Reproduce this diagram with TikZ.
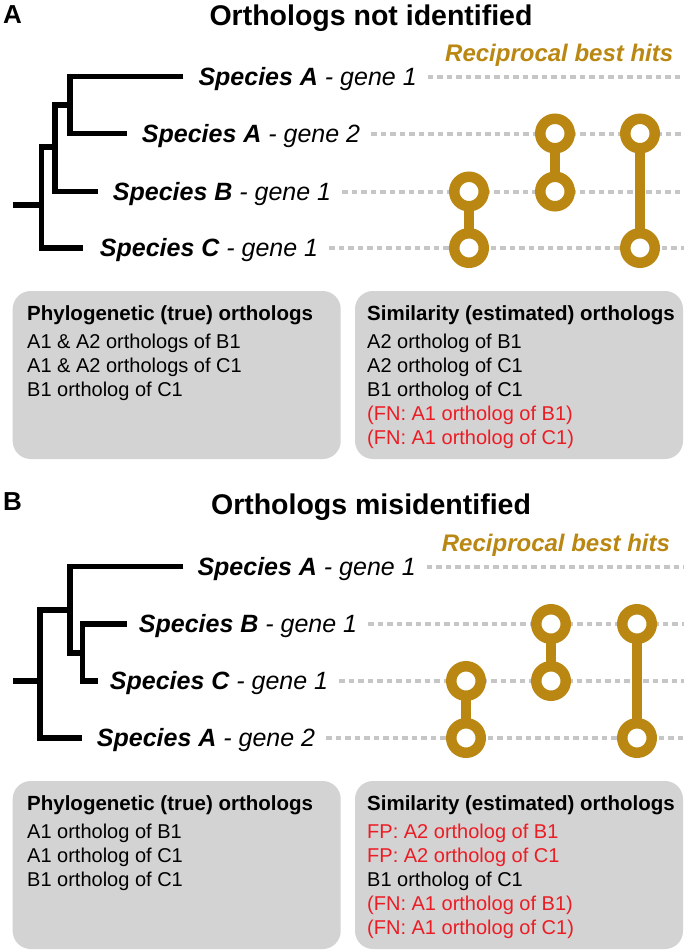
\documentclass[tikz,border=0pt]{standalone}
\usepackage{fontspec}
\setmainfont{Liberation Sans}
\usetikzlibrary{positioning}
\definecolor{rbhgold}{RGB}{185,135,18}
\definecolor{guidegray}{RGB}{198,198,198}
\definecolor{boxgray}{RGB}{211,211,211}
\definecolor{fnred}{RGB}{236,28,36}

\begin{document}
\begin{tikzpicture}[x=1pt,y=-1pt,
  branch/.style={line width=5.5pt,line join=miter},
  taxon/.style={inner sep=0pt,text height=17pt,text depth=0pt,font=\fontsize{25}{28}\selectfont\itshape},
  guide/.style={guidegray,line width=4pt,dash pattern=on 5.5pt off 4pt},
  hit/.style={circle,draw=rbhgold,fill=white,line width=10.5pt,inner sep=0pt,minimum size=29.5pt},
  hitlink/.style={rbhgold,line width=9.5pt,shorten <=-3pt,shorten >=-3pt},
  panel/.style={font=\fontsize{26}{30}\selectfont\bfseries,anchor=base west,inner sep=0pt},
  heading/.style={font=\fontsize{28.5}{32}\selectfont\bfseries,anchor=base,inner sep=0pt},
  rbh/.style={text=rbhgold,font=\fontsize{24}{28}\selectfont\bfseries\itshape,anchor=base west,inner sep=0pt},
  listbox/.style={fill=boxgray,rounded corners=18pt},
  listhead/.style={font=\fontsize{20.5}{24}\selectfont\bfseries,anchor=base west,inner sep=0pt},
  listline/.style={font=\fontsize{20}{24}\selectfont,anchor=base west,inner sep=0pt}]
\useasboundingbox (0,0) rectangle (685,951);
\coordinate (edge) at (684,0);

% ---- panel A: orthologs not identified
\node[panel] (pA) at (3,23.5) {A};
\node[heading] (tA) at (371,25) {Orthologs not identified};
\node[rbh] (rA) at (445,61.5) {Reciprocal best hits};
\coordinate (a1) at (183.3,76.7);
\coordinate (a2) at (126.7,133.5);
\coordinate (a3) at (97.7,191.5);
\coordinate (a4) at (82.7,248);
\draw[branch] (12.7,205) -- (41.7,205);
\draw[branch] (55,147) -- (41.7,147) -- (41.7,248) -- (a4);
\draw[branch] (70,105) -- (55,105) -- (55,191.5) -- (a3);
\draw[branch] (a1) -- (70,76.7) -- (70,133.5) -- (a2);
\node[taxon,right=15pt of a1] (la1) {{\bfseries Species A} - gene 1};
\node[taxon,right=15pt of a2] (la2) {{\bfseries Species A} - gene 2};
\node[taxon,right=15pt of a3] (la3) {{\bfseries Species B} - gene 1};
\node[taxon,right=17pt of a4] (la4) {{\bfseries Species C} - gene 1};

% ---- panel B: orthologs misidentified
\node[panel] (pB) at (3,510) {B};
\node[heading] (tB) at (371,514.3) {Orthologs misidentified};
\node[rbh] (rB) at (441.7,551.7) {Reciprocal best hits};
\coordinate (b1) at (183.3,566.7);
\coordinate (b2) at (126.7,624);
\coordinate (b3) at (97.7,681);
\coordinate (b4) at (81.7,738);
\draw[branch] (13,681) -- (40,681);
\draw[branch] (70,610) -- (40,610) -- (40,738) -- (b4);
\draw[branch] (b1) -- (70,566.7) -- (70,653) -- (82.7,653);
\draw[branch] (b2) -- (82.7,624) -- (82.7,681) -- (b3);
\node[taxon,right=14pt of b1] (lb1) {{\bfseries Species A} - gene 1};
\node[taxon,right=12pt of b2] (lb2) {{\bfseries Species B} - gene 1};
\node[taxon,right=12pt of b3] (lb3) {{\bfseries Species C} - gene 1};
\node[taxon,right=15pt of b4] (lb4) {{\bfseries Species A} - gene 2};

% gene rows
\foreach \n in {la1,la2,la3,la4,lb1,lb2,lb3,lb4}
  \draw[guide] ([xshift=11pt]\n.east) -- (\n.east -| edge);

% reciprocal best hits
\coordinate (kA1) at (469,0);
\coordinate (kA2) at (555,0);
\coordinate (kA3) at (640,0);
\node[hit] (hA1t) at (a3 -| kA1) {};
\node[hit] (hA1b) at (a4 -| kA1) {};
\node[hit] (hA2t) at (a2 -| kA2) {};
\node[hit] (hA2b) at (a3 -| kA2) {};
\node[hit] (hA3t) at (a2 -| kA3) {};
\node[hit] (hA3b) at (a4 -| kA3) {};
\coordinate (kB1) at (466,0);
\coordinate (kB2) at (551,0);
\coordinate (kB3) at (637,0);
\node[hit] (hB1t) at (b3 -| kB1) {};
\node[hit] (hB1b) at (b4 -| kB1) {};
\node[hit] (hB2t) at (b2 -| kB2) {};
\node[hit] (hB2b) at (b3 -| kB2) {};
\node[hit] (hB3t) at (b2 -| kB3) {};
\node[hit] (hB3b) at (b4 -| kB3) {};
\foreach \p in {A1,A2,A3,B1,B2,B3}
  \draw[hitlink] (h\p t) -- (h\p b);

% ortholog lists
\path[listbox] (12.7,291) rectangle (340.7,459);
\path[listbox] (355,291) rectangle (683,459);
\path[listbox] (12.7,781) rectangle (340.7,949);
\path[listbox] (355,781) rectangle (683,949);
\node[listhead] (phA) at (27,320.7) {Phylogenetic (true) orthologs};
\foreach \t [count=\i] in {A1 \& A2 orthologs of B1,A1 \& A2 orthologs of C1,B1 ortholog of C1}
  \node[listline] (phA\i) at (27,324.3+24*\i) {\t};
\node[listhead] (smA) at (367,320.7) {Similarity (estimated) orthologs};
\foreach \t/\c [count=\i] in {A2 ortholog of B1/black,A2 ortholog of C1/black,B1 ortholog of C1/black,
    {(FN: A1 ortholog of B1)}/fnred,{(FN: A1 ortholog of C1)}/fnred}
  \node[listline,text=\c] (smA\i) at (367,324.3+24*\i) {\t};
\node[listhead] (phB) at (27,810) {Phylogenetic (true) orthologs};
\foreach \t [count=\i] in {A1 ortholog of B1,A1 ortholog of C1,B1 ortholog of C1}
  \node[listline] (phB\i) at (27,814+24*\i) {\t};
\node[listhead] (smB) at (367,810) {Similarity (estimated) orthologs};
\foreach \t/\c [count=\i] in {FP: A2 ortholog of B1/fnred,FP: A2 ortholog of C1/fnred,B1 ortholog of C1/black,
    {(FN: A1 ortholog of B1)}/fnred,{(FN: A1 ortholog of C1)}/fnred}
  \node[listline,text=\c] (smB\i) at (367,814+24*\i) {\t};
\end{tikzpicture}
\end{document}
